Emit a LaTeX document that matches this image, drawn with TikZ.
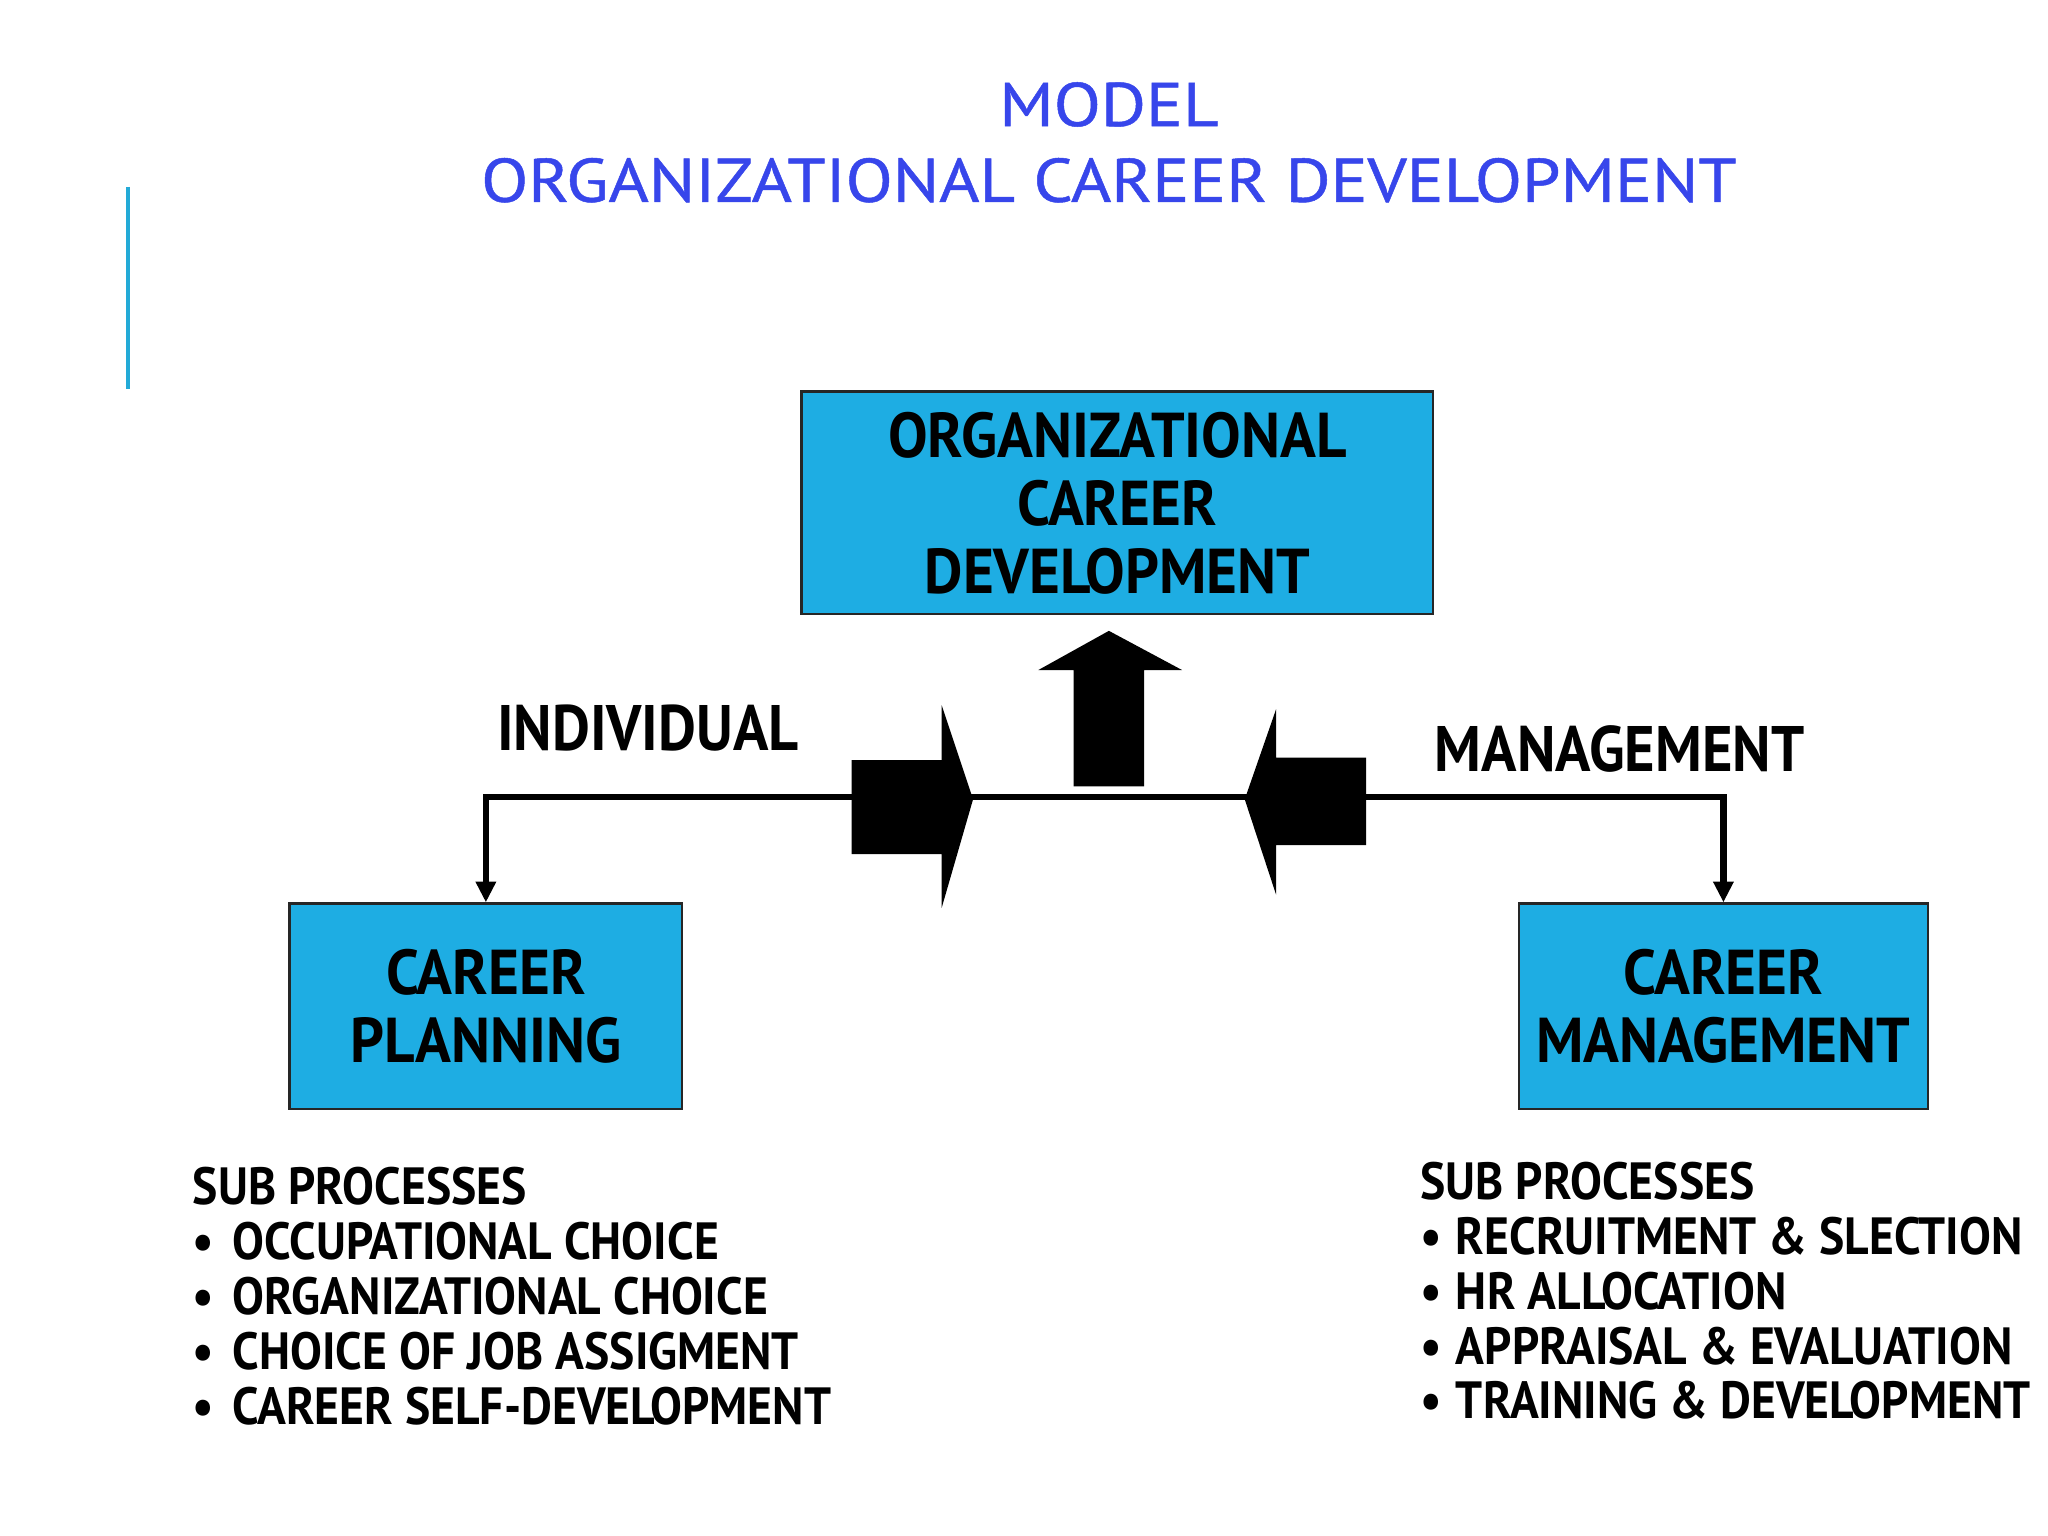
\documentclass[tikz,border=0pt]{standalone}
\usepackage{fontspec}
\setmainfont{PT Sans}
\newfontfamily\titlefont[FakeStretch=1.12,FakeBold=0.8]{PT Sans}
\newfontfamily\boxfont[FakeStretch=0.935]{PT Sans}
\newfontfamily\sidefont[FakeStretch=0.91]{PT Sans}
\usetikzlibrary{positioning,arrows.meta}
\definecolor{boxblue}{RGB}{30,173,227}
\definecolor{titleblue}{RGB}{55,70,235}
\definecolor{barblue}{RGB}{35,170,215}

\begin{document}
\begin{tikzpicture}[
  x=0.01cm, y=-0.01cm,
  every node/.style={align=center,inner sep=0pt},
  heading/.style={text=titleblue,font=\titlefont\fontsize{13.4}{16.5}\selectfont},
  process/.style={draw=black!85,line width=0.6pt,fill=boxblue,
    font=\boxfont\bfseries\fontsize{13.8}{14.8}\selectfont},
  side/.style={font=\sidefont\bfseries\fontsize{14}{16}\selectfont},
  subList/.style={align=left,anchor=north west,
    font=\sidefont\bfseries\fontsize{11.4}{11.95}\selectfont},
  link/.style={line width=1.4pt,-{Triangle[width=4.2pt,length=4.5pt]}},
  blockArrow/.style={fill=black}]

  \useasboundingbox (0,0) rectangle (1568,1176);
  \fill[white] (0,0) rectangle (1568,1176);

  % title and side bar
  \node[heading] (title) at (849,109) {MODEL\\ORGANIZATIONAL CAREER DEVELOPMENT};
  \draw[barblue,line width=0.85pt] (98,143) -- (98,298);

  % boxes
  \node[process,minimum width=4.83cm,minimum height=1.70cm] (ocd) at (855.5,385)
    {ORGANIZATIONAL\\CAREER\\DEVELOPMENT};
  \node[process,minimum width=3.00cm,minimum height=1.57cm] (cPlan) at (372,770.5)
    {CAREER\\PLANNING};
  \node[process,minimum width=3.13cm,minimum height=1.57cm] (cMgmt) at (1319.5,770.5)
    {CAREER\\MANAGEMENT};

  \node[side] (lInd) at (496,557.5) {INDIVIDUAL};
  \node[side] (lMgmt) at (1240,573.5) {MANAGEMENT};

  % connectors
  \coordinate (hub) at (849,610);
  \draw[link] (hub) -| (cPlan);
  \draw[link] (hub) -| (cMgmt);

  % block arrows
  \fill[blockArrow] (652,582) -- (721,582) -- (721,540) -- (745,612)
    -- (721,695) -- (721,654) -- (652,654) -- cycle;
  \fill[blockArrow] (1046,580) -- (977,580) -- (977,543) -- (953,612)
    -- (977,685) -- (977,647) -- (1046,647) -- cycle;
  \fill[blockArrow] (822,602) -- (822,513) -- (795,513) -- (849,483)
    -- (905,513) -- (876,513) -- (876,602) -- cycle;

  % sub processes
  \node[subList] (subPlan) at (147,893) {SUB PROCESSES\\
    \textbullet\hspace{4pt}OCCUPATIONAL CHOICE\\
    \textbullet\hspace{4pt}ORGANIZATIONAL CHOICE\\
    \textbullet\hspace{4pt}CHOICE OF JOB ASSIGMENT\\
    \textbullet\hspace{4pt}CAREER SELF-DEVELOPMENT};
  \node[subList] (subMgmt) at (1087,889) {SUB PROCESSES\\
    \textbullet\hspace{3pt}RECRUITMENT \& SLECTION\\
    \textbullet\hspace{3pt}HR ALLOCATION\\
    \textbullet\hspace{3pt}APPRAISAL \& EVALUATION\\
    \textbullet\hspace{3pt}TRAINING \& DEVELOPMENT};
\end{tikzpicture}
\end{document}
